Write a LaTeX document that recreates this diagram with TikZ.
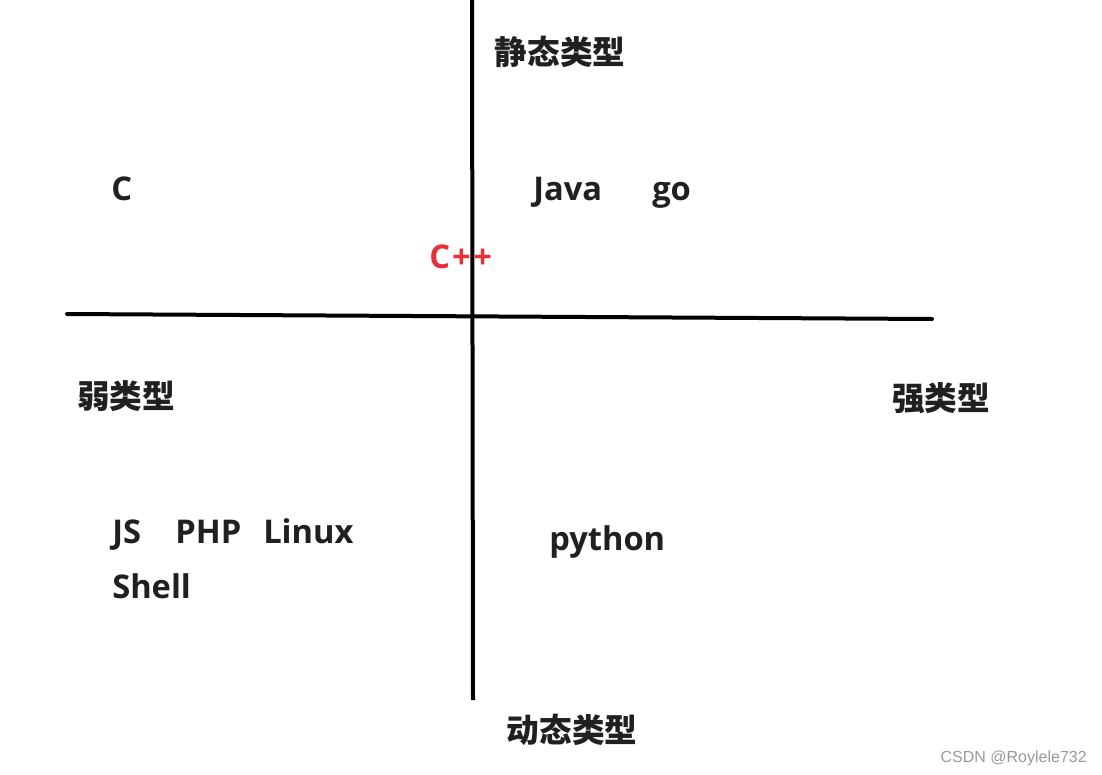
\documentclass[tikz,border=0pt]{standalone}
\usepackage{fontspec}
\setmainfont{Open Sans}
\newfontfamily\cjk{Noto Sans CJK SC}
\newfontfamily\wmfont{Liberation Sans}
\definecolor{txt}{HTML}{202020}
\definecolor{redtxt}{HTML}{E8303A}
\definecolor{wm}{HTML}{9A9A9A}
\begin{document}
\begin{tikzpicture}[x=0.75pt,y=-0.75pt,
  axis/.style={line width=3pt,black},
  cn/.style={font=\cjk\bfseries\fontsize{24.5pt}{28pt}\selectfont,text=txt,inner sep=0pt},
  lang/.style={font=\bfseries\fontsize{24.5pt}{28pt}\selectfont,text=txt,inner sep=0pt,anchor=base west}]
\useasboundingbox[fill=white] (0,0) rectangle (1102,774);
% axes
\coordinate (vtop) at (472,0);
\coordinate (vbot) at (473,700);
\coordinate (hl) at (67,314);
\coordinate (hr) at (932,319);
\draw[axis] (vtop) -- (vbot);
\draw[axis,line cap=round] (hl) -- (hr);
% axis labels
\node[cn] (static) at (560,52) {静态类型};
\node[cn] (dynamic) at (572,730) {动态类型};
\node[cn] (weak) at (126,396) {弱类型};
\node[cn] (strong) at (941,398) {强类型};
% languages
\node[lang] (c) at (111,200) {C};
\node[lang] (java) at (533,200) {Java};
\node[lang] (go) at (652,200) {go};
\node[lang,text=redtxt] (cpp) at (429,268) {C\kern1.5pt+\kern2pt+};
\node[lang] (js) at (112,543) {JS};
\node[lang] (php) at (175,543) {PHP};
\node[lang] (linux) at (263,543) {Linux};
\node[lang] (shell) at (112,598) {Shell};
\node[lang] (python) at (549,550) {python};
% watermark
\node[font=\wmfont\fontsize{12pt}{14pt}\selectfont,text=wm,inner sep=0pt,anchor=base east] (wmk) at (1087,762) {CSDN @Roylele732};
\end{tikzpicture}
\end{document}
